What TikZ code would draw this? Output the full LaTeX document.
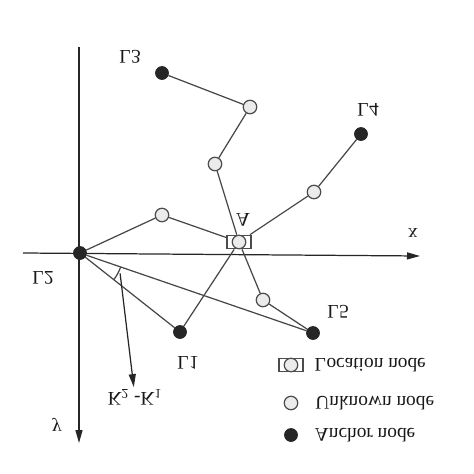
\documentclass[tikz,border=0pt]{standalone}
\usepackage{fontspec}
\setmainfont{Liberation Serif}
\usetikzlibrary{calc,positioning,arrows.meta}
\tikzset{>={Triangle[width=1.4mm,length=2.6mm]}}
\tikzset{flip/.style = {yscale=-1, inner sep=1pt, text=black!90,
                  font=\fontsize{11}{13}\selectfont},
        link/.style = {draw=black!72, line width=0.7pt}
    }

\begin{document}
\begin{tikzpicture}[x=0.02cm, y=-0.02cm]
    \tikzstyle{anode} = [circle, fill=black!85, draw=black!85, minimum size=0.26cm, inner sep=0pt]
    \tikzstyle{unode} = [circle, fill=black!8, draw=black!70, line width=0.7pt, minimum size=0.27cm, inner sep=0pt]
    \tikzstyle{lnode} = [rectangle, draw=black!70, line width=0.7pt, minimum width=0.48cm, minimum height=0.27cm, inner sep=0pt]

    \useasboundingbox (0,0) rectangle (474,474);

    % axes
    \coordinate (xa) at (23,253);
    \coordinate (xb) at (420,256);
    \coordinate (ya) at (79,47);
    \coordinate (yb) at (79,443);
    \draw[link, ->, black!85] (xa) -- (xb);
    \draw[link, ->, black!85] (ya) -- (yb);
    \node[flip] (xl) at (413,233) {x};
    \node[flip] (yl) at (57,425) {y};

    % anchor nodes
    \node[anode] (L1) at (180,332) {};
    \node[anode] (L2) at (80,253) {};
    \node[anode] (L3) at (162,73) {};
    \node[anode] (L4) at (361,134) {};
    \node[anode] (L5) at (313,333) {};
    \node[flip] (l1) at (188,363) {L1};
    \node[flip] (l2) at (43,278) {L2};
    \node[flip] (l3) at (130,57) {L3};
    \node[flip] (l4) at (368,110) {L4};
    \node[flip] (l5) at (338,312) {L5};

    % unknown nodes
    \node[unode] (u1) at (250,107) {};
    \node[unode] (u2) at (215,164) {};
    \node[unode] (u3) at (314,192) {};
    \node[unode] (u4) at (162,215) {};
    \node[unode] (u5) at (263,300) {};

    % location node
    \node[lnode] (A) at (239,242) {};
    \node[unode] (a0) at (A) {};
    \node[flip] (al) at (243,220) {A};

    \draw[link] (L3) -- (u1) -- (u2) -- (A) -- (u5) -- (L5);
    \draw[link] (L2) -- (u4) -- (A) -- (u3) -- (L4);
    \draw[link] (L1) -- (A);
    \draw[link] (L2) -- (L1);
    \draw[link] (L2) -- (L5);

    % angle between the two rays
    \draw[link] (L2) ++(18.9:43) arc[start angle=18.9, end angle=38.3, radius=43];
    \coordinate (k) at ($(L2)+(27:45)$);
    \node[flip] (K) at (135,397) {K\textsubscript{2} -K\textsubscript{1}};
    \draw[link, ->, black!85] (k) -- (K);

    % legend
    \node[lnode] (g1) at (291,365) {};
    \node[unode] (g1c) at (g1) {};
    \node[unode] (g2) at (291,403) {};
    \node[anode] (g3) at (291,435) {};
    \node[flip, right=0.18cm of g1] (t1) {Location node};
    \node[flip, right=0.3cm of g2] (t2) {Unknown node};
    \node[flip, right=0.3cm of g3] (t3) {Anchor node};
\end{tikzpicture}
\end{document}
